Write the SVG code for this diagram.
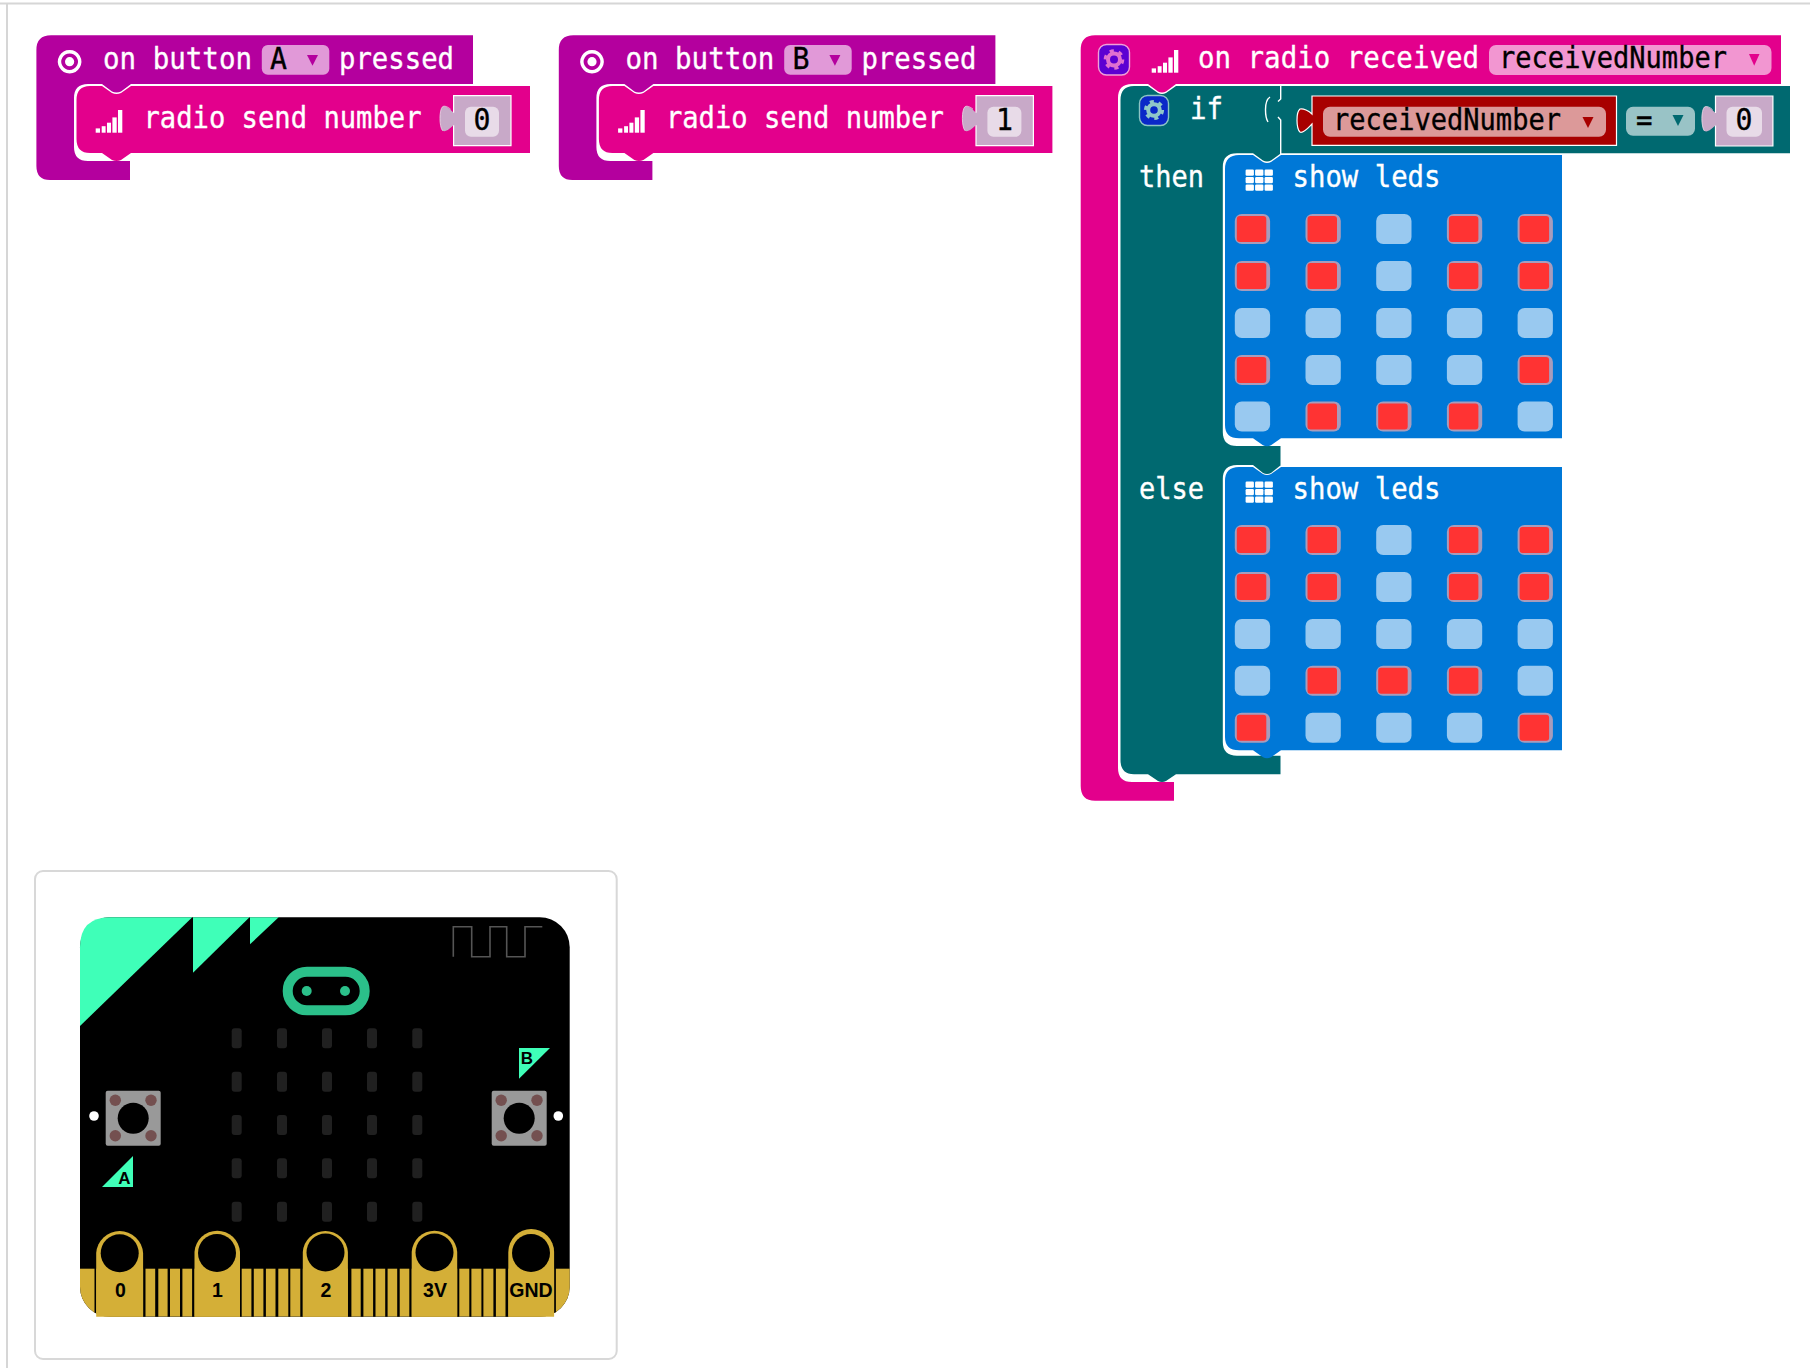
<svg xmlns="http://www.w3.org/2000/svg" xmlns:xlink="http://www.w3.org/1999/xlink" width="1810" height="1368" viewBox="0 0 1810 1368">
<style>
.t{font-family:"DejaVu Sans Mono","Liberation Mono",monospace;font-size:30.5px;fill:#fff;stroke:#fff;stroke-width:.35px}
.k{fill:#000;stroke:#000}
.b{font-family:"Liberation Sans",Arial,sans-serif;font-weight:700;fill:#000;text-anchor:middle}
.pin{font-size:19.5px}
.mk{font-size:17px}
</style>
<defs>
<path id="hat" d="M36.4 50 Q36.4 35.3 51 35.3 H473 V84 H131 L121 91.5 Q116.5 93.5 112 91.5 L102 84 H88 Q74 84 74 98 V147 Q74 161 88 161 H130 V180 H50 Q36.4 180 36.4 166 Z"/>
<path id="send" d="M90 86 H102 L112 93 Q116.5 95 121 93 L131 86 H530 V153 H131 L121 160 Q116.5 162 112 160 L102 153 H90 Q76.5 153 76.5 139 V100 Q76.5 86 90 86 Z"/>
<g id="num"><path d="M0 0 H57.4 V50 H0 V29.5 C-3 32 -8 37 -11 35 C-14.5 31 -14.5 14 -11 11 C-8 9 -3 14 0 17 Z" fill="#c8a9c8"/><path d="M0 17 V0 H57.4 V50 H0 V29.5" fill="none" stroke="#fff" stroke-width="1.2"/><path d="M-3 13.5 C-6 11 -9 9.8 -11 11 C-14.5 14 -14.5 31 -11 35" fill="none" stroke="#ead9e6" stroke-width=".8"/></g>
<g id="sig" fill="#fff"><rect x="0" y="-4.3" width="4.3" height="4.3"/><rect x="6" y="-6.5" width="3.9" height="6.5"/><rect x="11.3" y="-10" width="4" height="10"/><rect x="16.7" y="-15.3" width="4.3" height="15.3"/><rect x="22.3" y="-22.7" width="4.3" height="22.7"/></g>
<path id="btn" d="M69.6 51.7 a10 10 0 1 0 .01 0 Z" fill="none" stroke="#fff" stroke-width="3.4"/>
<path id="show" d="M1239 0 H1253 L1263 7 Q1267 9 1271 7 L1281 0 H1562 V283.3 H1281 L1271 290.3 Q1267 292.3 1263 290.3 L1253 283.3 H1239 Q1225 283.3 1225 270 V14 Q1225 0 1239 0 Z"/>
<g id="grid" fill="#fff"><rect x="0" y="0" width="8.3" height="6.2" rx="1.2"/><rect x="9.5" y="0" width="8.3" height="6.2" rx="1.2"/><rect x="19" y="0" width="8.3" height="6.2" rx="1.2"/><rect x="0" y="7.5" width="8.3" height="6.2" rx="1.2"/><rect x="9.5" y="7.5" width="8.3" height="6.2" rx="1.2"/><rect x="19" y="7.5" width="8.3" height="6.2" rx="1.2"/><rect x="0" y="15" width="8.3" height="6.2" rx="1.2"/><rect x="9.5" y="15" width="8.3" height="6.2" rx="1.2"/><rect x="19" y="15" width="8.3" height="6.2" rx="1.2"/></g>
<rect id="off" width="35.3" height="30" rx="7" fill="#99c9f0"/>
<g id="on"><rect width="35.3" height="30" rx="7" fill="#a79cbc"/><rect x="2" y="2" width="29.5" height="26" rx="3" fill="#f33"/></g>
<rect id="led" width="10" height="20" rx="3" fill="#202020"/>
<g id="leds-a">
<use xlink:href="#on" href="#on" x="1234.8"/><use xlink:href="#on" href="#on" x="1305.5"/><use xlink:href="#off" href="#off" x="1376.2"/><use xlink:href="#on" href="#on" x="1446.9"/><use xlink:href="#on" href="#on" x="1517.6"/>
<use xlink:href="#on" href="#on" x="1234.8" y="47"/><use xlink:href="#on" href="#on" x="1305.5" y="47"/><use xlink:href="#off" href="#off" x="1376.2" y="47"/><use xlink:href="#on" href="#on" x="1446.9" y="47"/><use xlink:href="#on" href="#on" x="1517.6" y="47"/>
<use xlink:href="#off" href="#off" x="1234.8" y="94"/><use xlink:href="#off" href="#off" x="1305.5" y="94"/><use xlink:href="#off" href="#off" x="1376.2" y="94"/><use xlink:href="#off" href="#off" x="1446.9" y="94"/><use xlink:href="#off" href="#off" x="1517.6" y="94"/>
</g>
<clipPath id="bd"><rect x="80" y="917.3" width="489.7" height="399.4" rx="30"/></clipPath>
</defs>

<rect width="1810" height="1368" fill="#fff"/>
<g id="page" fill="#d6d6d6"><rect x="0" y="2.5" width="1810" height="2"/><rect x="6" y="3" width="2" height="1365"/></g>

<g id="block-a">
<use xlink:href="#hat" href="#hat" fill="#b4009e"/>
<use xlink:href="#send" href="#send" fill="#e3008c"/>
<use xlink:href="#btn" href="#btn"/><circle cx="69.6" cy="61.7" r="4.6" fill="#fff"/>
<text class="t" x="103" y="68.5" textLength="149" lengthAdjust="spacingAndGlyphs">on button</text>
<rect x="261.8" y="45" width="67.5" height="29.7" rx="6" fill="#e199d8"/>
<text class="t k" x="270" y="68.5" textLength="17" lengthAdjust="spacingAndGlyphs">A</text>
<path d="M307 55 H318 L312.5 65.7 Z" fill="#b4009e"/>
<text class="t" x="339" y="68.5" textLength="115" lengthAdjust="spacingAndGlyphs">pressed</text>
<use xlink:href="#sig" href="#sig" x="95.7" y="132.7"/>
<text class="t" x="143.5" y="128" textLength="278" lengthAdjust="spacingAndGlyphs">radio send number</text>
<use xlink:href="#num" href="#num" x="453.6" y="95.7"/>
<rect x="465" y="106.7" width="34" height="30" rx="6" fill="#e8dbe8"/>
<text class="t k" x="473.5" y="129.5" textLength="17" lengthAdjust="spacingAndGlyphs">0</text>
</g>

<g id="block-b">
<g transform="translate(522.4 0)">
<use xlink:href="#hat" href="#hat" fill="#b4009e"/>
<use xlink:href="#send" href="#send" fill="#e3008c"/>
<use xlink:href="#btn" href="#btn"/><circle cx="69.6" cy="61.7" r="4.6" fill="#fff"/>
<text class="t" x="103" y="68.5" textLength="149" lengthAdjust="spacingAndGlyphs">on button</text>
<rect x="261.8" y="45" width="67.5" height="29.7" rx="6" fill="#e199d8"/>
<text class="t k" x="270" y="68.5" textLength="17" lengthAdjust="spacingAndGlyphs">B</text>
<path d="M307 55 H318 L312.5 65.7 Z" fill="#b4009e"/>
<text class="t" x="339" y="68.5" textLength="115" lengthAdjust="spacingAndGlyphs">pressed</text>
<use xlink:href="#sig" href="#sig" x="95.7" y="132.7"/>
<text class="t" x="143.5" y="128" textLength="278" lengthAdjust="spacingAndGlyphs">radio send number</text>
<use xlink:href="#num" href="#num" x="453.6" y="95.7"/>
<rect x="465" y="106.7" width="34" height="30" rx="6" fill="#e8dbe8"/>
<text class="t k" x="473.5" y="129.5" textLength="17" lengthAdjust="spacingAndGlyphs">1</text>
</g>
</g>

<g id="block-radio">
<path fill="#e3008c" d="M1080.7 50 Q1080.7 35.3 1095 35.3 H1781 V84 H1176 L1166 91.5 Q1162 93.5 1158 91.5 L1148 84 H1132 Q1118 84 1118 98 V768 Q1118 782 1132 782 H1174 V800.7 H1095 Q1080.7 800.7 1080.7 786 Z"/>
<rect x="1098.5" y="44.5" width="31" height="30.5" rx="8" fill="#5c00d2" stroke="#f0a0d8" stroke-width="1.4"/>
<circle cx="1114" cy="59.5" r="6" fill="none" stroke="#e070d0" stroke-width="4"/>
<circle cx="1114" cy="59.5" r="8.8" fill="none" stroke="#e070d0" stroke-width="3" stroke-dasharray="4.2 5"/>
<use xlink:href="#sig" href="#sig" x="1151.7" y="72.7"/>
<text class="t" x="1198" y="68" textLength="281" lengthAdjust="spacingAndGlyphs">on radio received</text>
<rect x="1489" y="45" width="282.5" height="30" rx="7" fill="#f296d1"/>
<text class="t k" x="1499" y="68" textLength="228" lengthAdjust="spacingAndGlyphs">receivedNumber</text>
<path d="M1749 54 H1759.5 L1754.2 65.7 Z" fill="#e3008c"/>
</g>

<g id="block-if">
<path fill="#006970" d="M1134 86 H1148 L1158 93 Q1162 95 1166 93 L1176 86 H1790 V153.3 H1281 L1271 160.5 Q1267 162.5 1263 160.5 L1253 153.3 H1237 Q1222.8 153.3 1222.8 167 V432 Q1222.8 446 1237 446 H1280.5 V465 H1281 L1271 473 Q1267 475 1263 473 L1253 465 H1237 Q1222.8 465 1222.8 479 V742 Q1222.8 755.7 1237 755.7 H1280.5 V774.3 H1176 L1166 781 Q1162 783 1158 781 L1148 774.3 H1134 Q1120.5 774.3 1120.5 760 V100 Q1120.5 86 1134 86 Z"/>
<path d="M1280.7 86 V99 L1278 101.5 M1270 97 Q1265.5 100 1265.5 109.5 Q1265.5 118 1268 122 M1278 117 L1280.7 120 V154" fill="none" stroke="#fff" stroke-width="1.4"/>
<rect x="1139.5" y="95.5" width="29" height="30" rx="8" fill="#0a28c8" stroke="#8cc4c4" stroke-width="1.4"/>
<circle cx="1154" cy="110" r="5.8" fill="none" stroke="#90c8c8" stroke-width="4"/>
<circle cx="1154" cy="110" r="8.6" fill="none" stroke="#90c8c8" stroke-width="3" stroke-dasharray="4.1 4.9"/>
<text class="t" x="1190" y="118.5" textLength="33" lengthAdjust="spacingAndGlyphs">if</text>
<text class="t" x="1139" y="186.5" textLength="65" lengthAdjust="spacingAndGlyphs">then</text>
<text class="t" x="1139" y="498.5" textLength="65" lengthAdjust="spacingAndGlyphs">else</text>
</g>

<g id="block-get">
<path d="M1312 96 H1616.5 V145.3 H1312 V124 C1309 127 1303 134 1300 132 C1296 128 1296 112 1300 109 C1303 108 1309 111 1312 114 Z" fill="#a80000" stroke="#fff" stroke-width="1.2"/>
<rect x="1323" y="106.7" width="283" height="30" rx="7" fill="#dc9999"/>
<text class="t k" x="1333" y="129.8" textLength="228" lengthAdjust="spacingAndGlyphs">receivedNumber</text>
<path d="M1582.5 117 H1593.5 L1588 128 Z" fill="#a80000"/>
</g>
<g id="block-compare">
<rect x="1626" y="106.7" width="69" height="29" rx="7" fill="#99c3c6"/>
<text class="t k" x="1636" y="130" textLength="16.5" lengthAdjust="spacingAndGlyphs">=</text>
<path d="M1672.5 115 H1683.5 L1678 126 Z" fill="#006970"/>
<use xlink:href="#num" href="#num" x="1715.5" y="96"/>
<rect x="1726.5" y="106.7" width="35.5" height="30" rx="6" fill="#e8dbe8"/>
<text class="t k" x="1735.5" y="129.5" textLength="17" lengthAdjust="spacingAndGlyphs">0</text>
</g>

<g id="show-leds-then">
<use xlink:href="#show" href="#show" y="155" fill="#0078d7"/>
<use xlink:href="#grid" href="#grid" x="1245.6" y="169.5"/>
<text class="t" x="1292.5" y="187.2" textLength="148" lengthAdjust="spacingAndGlyphs">show leds</text>
<use xlink:href="#leds-a" href="#leds-a" y="214"/>
<use xlink:href="#on" href="#on" x="1234.8" y="355"/><use xlink:href="#off" href="#off" x="1305.5" y="355"/><use xlink:href="#off" href="#off" x="1376.2" y="355"/><use xlink:href="#off" href="#off" x="1446.9" y="355"/><use xlink:href="#on" href="#on" x="1517.6" y="355"/>
<use xlink:href="#off" href="#off" x="1234.8" y="401.5"/><use xlink:href="#on" href="#on" x="1305.5" y="401.5"/><use xlink:href="#on" href="#on" x="1376.2" y="401.5"/><use xlink:href="#on" href="#on" x="1446.9" y="401.5"/><use xlink:href="#off" href="#off" x="1517.6" y="401.5"/>
</g>

<g id="show-leds-else">
<use xlink:href="#show" href="#show" y="467" fill="#0078d7"/>
<use xlink:href="#grid" href="#grid" x="1245.6" y="481.5"/>
<text class="t" x="1292.5" y="499.2" textLength="148" lengthAdjust="spacingAndGlyphs">show leds</text>
<use xlink:href="#leds-a" href="#leds-a" y="525"/>
<use xlink:href="#off" href="#off" x="1234.8" y="665.7"/><use xlink:href="#on" href="#on" x="1305.5" y="665.7"/><use xlink:href="#on" href="#on" x="1376.2" y="665.7"/><use xlink:href="#on" href="#on" x="1446.9" y="665.7"/><use xlink:href="#off" href="#off" x="1517.6" y="665.7"/>
<use xlink:href="#on" href="#on" x="1234.8" y="712.7"/><use xlink:href="#off" href="#off" x="1305.5" y="712.7"/><use xlink:href="#off" href="#off" x="1376.2" y="712.7"/><use xlink:href="#off" href="#off" x="1446.9" y="712.7"/><use xlink:href="#on" href="#on" x="1517.6" y="712.7"/>
</g>

<g id="microbit">
<rect x="35" y="871" width="581.7" height="488" rx="8" fill="#fff" stroke="#d8d8d8" stroke-width="2"/>
<rect x="80" y="917.3" width="489.7" height="399.4" rx="30" fill="#000"/>
<g fill="#3fffb8">
<path d="M80 1026 L192.3 917.3 H110 Q80 917.3 80 947.3 Z"/>
<path d="M193 917.3 H249.5 L193 972.7 Z"/>
<path d="M250 917.3 H278.7 L250 944.3 Z"/>
</g>
<rect x="287.7" y="971.7" width="77" height="38.6" rx="19.3" fill="none" stroke="#2bc08a" stroke-width="10"/>
<circle cx="306.7" cy="991" r="5" fill="#2bc08a"/><circle cx="345" cy="991" r="5" fill="#2bc08a"/>
<polyline points="453.3,956.7 453.3,926.7 471.7,926.7 471.7,956.7 490,956.7 490,926.7 506.7,926.7 506.7,956.7 525,956.7 525,926.7 542.3,926.7" fill="none" stroke="#555" stroke-width="1.6"/>
<g id="mb-leds">
<use xlink:href="#led" href="#led" x="231.7" y="1028.3"/><use xlink:href="#led" href="#led" x="277" y="1028.3"/><use xlink:href="#led" href="#led" x="322" y="1028.3"/><use xlink:href="#led" href="#led" x="367" y="1028.3"/><use xlink:href="#led" href="#led" x="412.3" y="1028.3"/>
<use xlink:href="#led" href="#led" x="231.7" y="1071.7"/><use xlink:href="#led" href="#led" x="277" y="1071.7"/><use xlink:href="#led" href="#led" x="322" y="1071.7"/><use xlink:href="#led" href="#led" x="367" y="1071.7"/><use xlink:href="#led" href="#led" x="412.3" y="1071.7"/>
<use xlink:href="#led" href="#led" x="231.7" y="1115"/><use xlink:href="#led" href="#led" x="277" y="1115"/><use xlink:href="#led" href="#led" x="322" y="1115"/><use xlink:href="#led" href="#led" x="367" y="1115"/><use xlink:href="#led" href="#led" x="412.3" y="1115"/>
<use xlink:href="#led" href="#led" x="231.7" y="1158.3"/><use xlink:href="#led" href="#led" x="277" y="1158.3"/><use xlink:href="#led" href="#led" x="322" y="1158.3"/><use xlink:href="#led" href="#led" x="367" y="1158.3"/><use xlink:href="#led" href="#led" x="412.3" y="1158.3"/>
<use xlink:href="#led" href="#led" x="231.7" y="1201.7"/><use xlink:href="#led" href="#led" x="277" y="1201.7"/><use xlink:href="#led" href="#led" x="322" y="1201.7"/><use xlink:href="#led" href="#led" x="367" y="1201.7"/><use xlink:href="#led" href="#led" x="412.3" y="1201.7"/>
</g>
<g id="btn-a">
<rect x="105.7" y="1090.7" width="55" height="55" rx="2" fill="#999"/>
<circle cx="133.2" cy="1118.2" r="15.5"/>
<g fill="#745050"><circle cx="115.3" cy="1100.3" r="5.7"/><circle cx="151" cy="1100.3" r="5.7"/><circle cx="115.3" cy="1135.7" r="5.7"/><circle cx="151" cy="1135.7" r="5.7"/></g>
<circle cx="94" cy="1116" r="4.8" fill="#fff"/>
<path d="M133 1156 V1187 H102 Z" fill="#3fffb8"/>
<text class="b mk" x="124.5" y="1184">A</text>
</g>
<g id="btn-b">
<rect x="491.7" y="1090.7" width="55" height="55" rx="2" fill="#999"/>
<circle cx="519.2" cy="1118.2" r="15.5"/>
<g fill="#745050"><circle cx="501.2" cy="1100.3" r="5.7"/><circle cx="537" cy="1100.3" r="5.7"/><circle cx="501.2" cy="1135.7" r="5.7"/><circle cx="537" cy="1135.7" r="5.7"/></g>
<circle cx="558.3" cy="1116" r="4.8" fill="#fff"/>
<path d="M519 1048 H550 L519 1078.7 Z" fill="#3fffb8"/>
<text class="b mk" x="527" y="1064">B</text>
</g>
<g id="pins">
<g clip-path="url(#bd)">
<rect x="80" y="1268.7" width="490" height="48" fill="#d4af37"/>
<path d="M94.5 1268h1.7v49h-1.7zM143.1 1268h2.4v49h-2.4zM155.2 1268h3.1v49h-3.1zM167.6 1268h2.4v49h-2.4zM180 1268h2.4v49h-2.4zM192.1 1268h2.4v49h-2.4zM240 1268h1.7v49h-1.7zM251.4 1268h2.4v49h-2.4zM263.4 1268h2.5v49h-2.5zM275.5 1268h2.8v49h-2.8zM288.3 1268h2v49h-2zM300.3 1268h2.5v49h-2.5zM347.9 1268h3.5v49h-3.5zM360.7 1268h2.7v49h-2.7zM373.1 1268h2.4v49h-2.4zM385.2 1268h2.4v49h-2.4zM397.2 1268h2.5v49h-2.5zM409.3 1268h2.4v49h-2.4zM457.2 1268h2.1v49h-2.1zM469.3 1268h2.1v49h-2.1zM481.4 1268h2v49h-2zM493.4 1268h2.5v49h-2.5zM505.5 1268h2.8v49h-2.8zM554.1 1268h1.8v49h-1.8z" fill="#000"/>
</g>
<g fill="#d4af37">
<path d="M96.2 1316.7 V1253 a23.5 23.5 0 0 1 46.9 0 V1316.7 Z"/>
<path d="M194.5 1316.7 V1252 a22.8 22.8 0 0 1 45.5 0 V1316.7 Z"/>
<path d="M302.8 1316.7 V1252 a22.6 22.6 0 0 1 45.1 0 V1316.7 Z"/>
<path d="M411.7 1316.7 V1252 a22.8 22.8 0 0 1 45.5 0 V1316.7 Z"/>
<path d="M508.3 1316.7 V1252 a22.9 22.9 0 0 1 45.8 0 V1316.7 Z"/>
</g>
<circle cx="119.7" cy="1253.3" r="19"/>
<circle cx="217" cy="1253" r="19"/>
<circle cx="325.5" cy="1252.5" r="19"/>
<circle cx="434.5" cy="1252.5" r="19"/>
<circle cx="531" cy="1253" r="19"/>
<text class="b pin" x="120.5" y="1297">0</text>
<text class="b pin" x="217.5" y="1297">1</text>
<text class="b pin" x="326" y="1297">2</text>
<text class="b pin" x="435" y="1297">3V</text>
<text class="b pin" x="531" y="1297">GND</text>
</g>
</g>
</svg>
